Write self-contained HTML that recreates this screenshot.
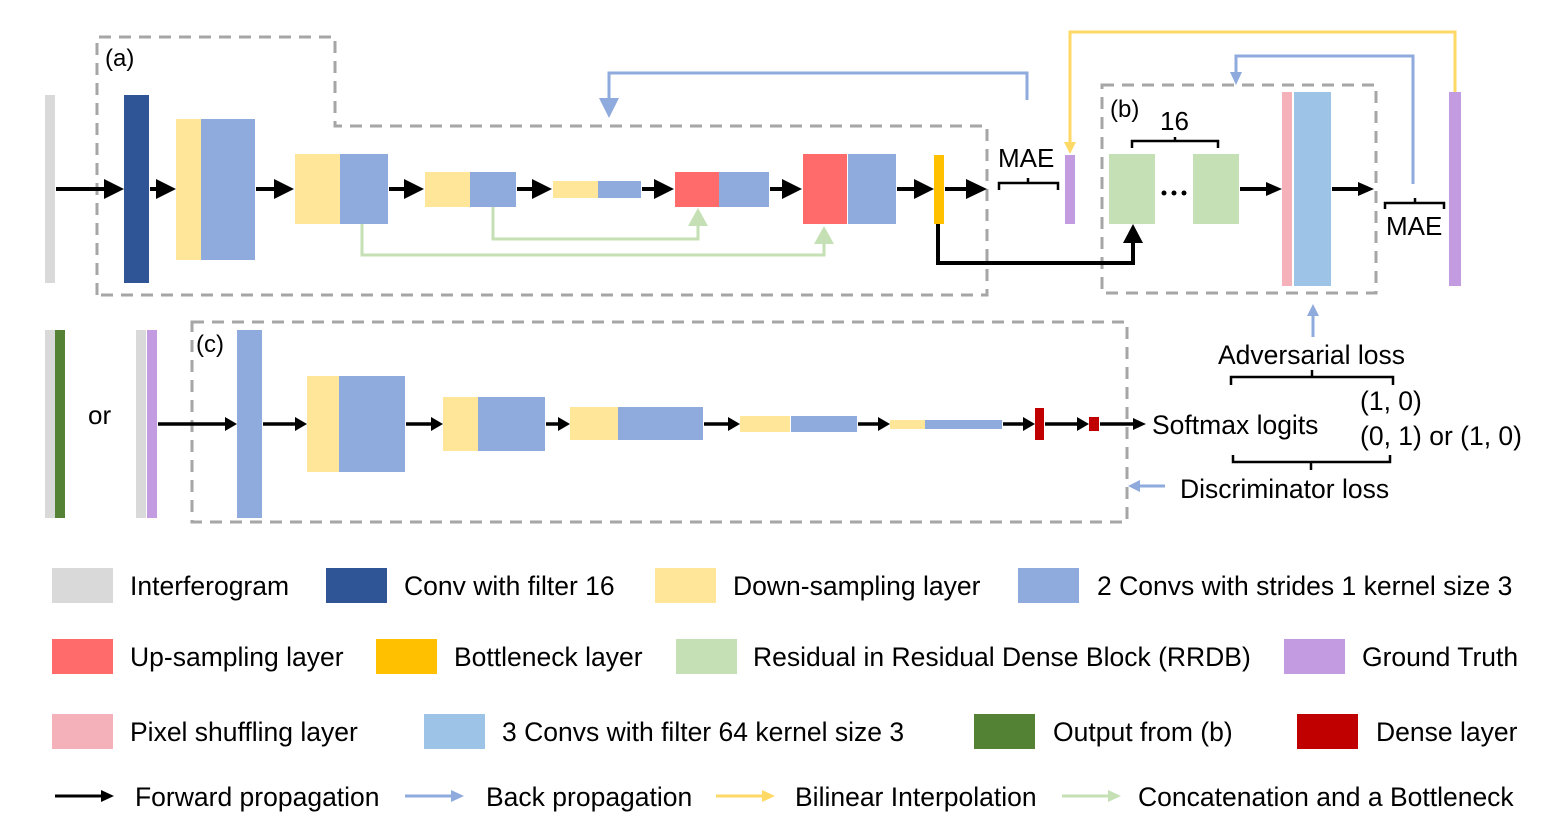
<!DOCTYPE html>
<html><head><style>
html,body{margin:0;padding:0;background:#fff;}
svg text{font-family:"Liberation Sans",Arial,sans-serif;fill:#000;}
</style></head><body>
<svg width="1546" height="823" viewBox="0 0 1546 823" xmlns="http://www.w3.org/2000/svg">
<g fill="none" stroke="#a6a6a6" stroke-width="3" stroke-dasharray="12,8">
<path d="M97,295 L97,37 L335,37 L335,126 L987,126 L987,295 Z"/>
<path d="M1102,85 L1376,85 L1376,293 L1102,293 Z"/>
<path d="M192,322 L1127,322 L1127,522 L192,522 Z"/>
</g>
<rect x="45" y="95" width="10" height="188" fill="#d9d9d9"/>
<rect x="124" y="95" width="25" height="188" fill="#2f5597"/>
<rect x="176" y="119" width="25" height="141" fill="#ffe699"/>
<rect x="201" y="119" width="54" height="141" fill="#8faadc"/>
<rect x="295" y="154" width="45" height="70" fill="#ffe699"/>
<rect x="340" y="154" width="48" height="70" fill="#8faadc"/>
<rect x="425" y="172" width="45" height="35" fill="#ffe699"/>
<rect x="470" y="172" width="46" height="35" fill="#8faadc"/>
<rect x="553" y="181" width="45" height="17" fill="#ffe699"/>
<rect x="598" y="181" width="43" height="17" fill="#8faadc"/>
<rect x="675" y="172" width="44" height="35" fill="#ff6b6b"/>
<rect x="719" y="172" width="50" height="35" fill="#8faadc"/>
<rect x="803" y="154" width="44" height="70" fill="#ff6b6b"/>
<rect x="848" y="154" width="48" height="70" fill="#8faadc"/>
<rect x="934" y="155" width="10" height="69" fill="#ffc000"/>
<rect x="1065" y="155" width="10" height="69" fill="#c39be0"/>
<rect x="1109" y="154" width="46" height="70" fill="#c5e0b4"/>
<rect x="1193" y="154" width="46" height="70" fill="#c5e0b4"/>
<rect x="1282" y="92" width="10" height="194" fill="#f4b1ba"/>
<rect x="1294" y="92" width="37" height="194" fill="#9dc3e6"/>
<rect x="1449" y="92" width="12" height="194" fill="#c39be0"/>
<g fill="#000"><circle cx="1164" cy="193" r="2.5"/><circle cx="1174" cy="193" r="2.5"/><circle cx="1184" cy="193" r="2.5"/></g>
<g stroke="#000" stroke-width="4">
<line x1="56" y1="189" x2="110" y2="189"/>
<line x1="150" y1="189" x2="163" y2="189"/>
<line x1="256" y1="189" x2="280" y2="189"/>
<line x1="389" y1="189" x2="410" y2="189"/>
<line x1="517" y1="189" x2="538" y2="189"/>
<line x1="642" y1="189" x2="660" y2="189"/>
<line x1="770" y1="189" x2="788" y2="189"/>
<line x1="897" y1="189" x2="920" y2="189"/>
<line x1="945" y1="189" x2="972" y2="189"/>
<path d="M938,224 L938,263 L1133,263 L1133,240" fill="none"/>
<line x1="1240" y1="189" x2="1270" y2="189"/>
<line x1="1332" y1="189" x2="1362" y2="189"/>
</g>
<g fill="#000">
<path d="M104,179 L124,189 L104,199z"/><path d="M156,179 L176,189 L156,199z"/>
<path d="M274,179 L294,189 L274,199z"/><path d="M404,179 L424,189 L404,199z"/>
<path d="M532,179 L552,189 L532,199z"/><path d="M654,179 L674,189 L654,199z"/>
<path d="M782,179 L802,189 L782,199z"/><path d="M914,179 L934,189 L914,199z"/>
<path d="M966,179 L987,189 L966,199z"/><path d="M1123,243 L1133,224 L1143,243z"/>
<path d="M1266,182 L1282,189 L1266,196z"/><path d="M1358,182 L1374,189 L1358,196z"/>
</g>
<g stroke="#c5e0b4" stroke-width="3" fill="none">
<path d="M362,224 L362,255 L824,255 L824,240"/>
<path d="M493,207 L493,239 L698,239 L698,222"/>
</g>
<g fill="#c5e0b4"><path d="M814,244 L824,226 L834,244z"/><path d="M688,226 L698,208 L708,226z"/></g>
<g stroke="#8faadc" stroke-width="3" fill="none">
<path d="M1027,100 L1027,73 L609,73 L609,100"/>
<path d="M1413,184 L1413,56 L1236,56 L1236,75"/>
<line x1="1313" y1="337" x2="1313" y2="315"/>
<line x1="1165" y1="486" x2="1138" y2="486"/>
</g>
<g fill="#8faadc"><path d="M599,98 L609,118 L619,98z"/><path d="M1230,72 L1236,85 L1242,72z"/><path d="M1307,316 L1313,304 L1319,316z"/><path d="M1140,480 L1128,486 L1140,492z"/></g>
<path d="M1455,92 L1455,32 L1070,32 L1070,143" stroke="#ffd966" stroke-width="3" fill="none"/>
<path d="M1064,142 L1070,154 L1076,142z" fill="#ffd966"/>
<g stroke="#000" stroke-width="2.5" fill="none">
<path d="M999,190 L999,183 L1058,183 L1058,190 M1028,183 L1028,178"/>
<path d="M1132,148 L1132,141 L1218,141 L1218,148 M1175,141 L1175,137"/>
<path d="M1385,209 L1385,203 L1444,203 L1444,209 M1415,203 L1415,198"/>
<path d="M1231,385 L1231,377 L1393,377 L1393,385 M1312,377 L1312,370"/>
<path d="M1233,455 L1233,462 L1390,462 L1390,455 M1311,462 L1311,470"/>
</g>
<text x="105" y="66" font-size="24">(a)</text>
<text x="1110" y="117" font-size="24">(b)</text>
<text x="196" y="352" font-size="24">(c)</text>
<text x="998" y="167" font-size="26">MAE</text>
<text x="1160" y="130" font-size="26">16</text>
<text x="1386" y="235" font-size="26">MAE</text>
<rect x="45" y="330" width="10" height="188" fill="#d9d9d9"/>
<rect x="55" y="330" width="10" height="188" fill="#548235"/>
<rect x="136" y="330" width="10" height="188" fill="#d9d9d9"/>
<rect x="147" y="330" width="10" height="188" fill="#c39be0"/>
<text x="88" y="424" font-size="26">or</text>
<rect x="237" y="330" width="25" height="188" fill="#8faadc"/>
<rect x="307" y="376" width="32" height="96" fill="#ffe699"/>
<rect x="339" y="376" width="66" height="96" fill="#8faadc"/>
<rect x="443" y="397" width="35" height="54" fill="#ffe699"/>
<rect x="478" y="397" width="67" height="54" fill="#8faadc"/>
<rect x="570" y="407" width="48" height="33" fill="#ffe699"/>
<rect x="618" y="407" width="85" height="33" fill="#8faadc"/>
<rect x="740" y="416" width="50" height="16" fill="#ffe699"/>
<rect x="791" y="416" width="66" height="16" fill="#8faadc"/>
<rect x="890" y="420" width="35" height="9" fill="#ffe699"/>
<rect x="925" y="420" width="77" height="9" fill="#8faadc"/>
<rect x="1035" y="408" width="9" height="32" fill="#c00000"/>
<rect x="1089" y="417" width="10" height="14" fill="#c00000"/>
<g stroke="#000" stroke-width="3.5">
<line x1="158" y1="424" x2="226" y2="424"/>
<line x1="263" y1="424" x2="296" y2="424"/>
<line x1="406" y1="424" x2="432" y2="424"/>
<line x1="546" y1="424" x2="560" y2="424"/>
<line x1="704" y1="424" x2="730" y2="424"/>
<line x1="858" y1="424" x2="880" y2="424"/>
<line x1="1003" y1="424" x2="1025" y2="424"/>
<line x1="1045" y1="424" x2="1079" y2="424"/>
<line x1="1100" y1="424" x2="1135" y2="424"/>
</g>
<g fill="#000">
<path d="M225,417 L237,424 L225,431z"/><path d="M295,417 L307,424 L295,431z"/>
<path d="M431,417 L443,424 L431,431z"/><path d="M558,417 L570,424 L558,431z"/>
<path d="M728,417 L740,424 L728,431z"/><path d="M878,417 L890,424 L878,431z"/>
<path d="M1023,417 L1035,424 L1023,431z"/><path d="M1077,417 L1089,424 L1077,431z"/>
<path d="M1133,418 L1146,424 L1133,430z"/>
</g>
<g font-size="26.5">
<text x="1152" y="434">Softmax logits</text>
<text x="1218" y="364">Adversarial loss</text>
<text x="1360" y="410">(1, 0)</text>
<text x="1360" y="445">(0, 1) or (1, 0)</text>
<text x="1180" y="498">Discriminator loss</text>
</g>
<g font-size="26.5">
<rect x="52" y="568" width="61" height="35" fill="#d9d9d9"/><text x="130" y="595">Interferogram</text>
<rect x="326" y="568" width="61" height="35" fill="#2f5597"/><text x="404" y="595">Conv with filter 16</text>
<rect x="655" y="568" width="61" height="35" fill="#ffe699"/><text x="733" y="595">Down-sampling layer</text>
<rect x="1018" y="568" width="61" height="35" fill="#8faadc"/><text x="1097" y="595">2 Convs with strides 1 kernel size 3</text>
<rect x="52" y="639" width="61" height="35" fill="#ff6b6b"/><text x="130" y="666">Up-sampling layer</text>
<rect x="376" y="639" width="61" height="35" fill="#ffc000"/><text x="454" y="666">Bottleneck layer</text>
<rect x="676" y="639" width="61" height="35" fill="#c5e0b4"/><text x="753" y="666">Residual in Residual Dense Block (RRDB)</text>
<rect x="1284" y="639" width="61" height="35" fill="#c39be0"/><text x="1362" y="666">Ground Truth</text>
<rect x="52" y="714" width="61" height="35" fill="#f4b1ba"/><text x="130" y="741">Pixel shuffling layer</text>
<rect x="424" y="714" width="61" height="35" fill="#9dc3e6"/><text x="502" y="741">3 Convs with filter 64 kernel size 3</text>
<rect x="974" y="714" width="61" height="35" fill="#548235"/><text x="1053" y="741">Output from (b)</text>
<rect x="1297" y="714" width="61" height="35" fill="#c00000"/><text x="1376" y="741">Dense layer</text>
<text x="135" y="806">Forward propagation</text>
<text x="486" y="806">Back propagation</text>
<text x="795" y="806">Bilinear Interpolation</text>
<text x="1138" y="806">Concatenation and a Bottleneck</text>
</g>
<line x1="55" y1="796" x2="103" y2="796" stroke="#000" stroke-width="3"/><path d="M101,790 L114,796 L101,802z" fill="#000"/>
<line x1="405" y1="796" x2="453" y2="796" stroke="#8faadc" stroke-width="3"/><path d="M451,790 L464,796 L451,802z" fill="#8faadc"/>
<line x1="716" y1="796" x2="764" y2="796" stroke="#ffd966" stroke-width="3"/><path d="M762,790 L775,796 L762,802z" fill="#ffd966"/>
<line x1="1062" y1="796" x2="1110" y2="796" stroke="#c5e0b4" stroke-width="3"/><path d="M1108,790 L1121,796 L1108,802z" fill="#c5e0b4"/>
</svg>
</body></html>
